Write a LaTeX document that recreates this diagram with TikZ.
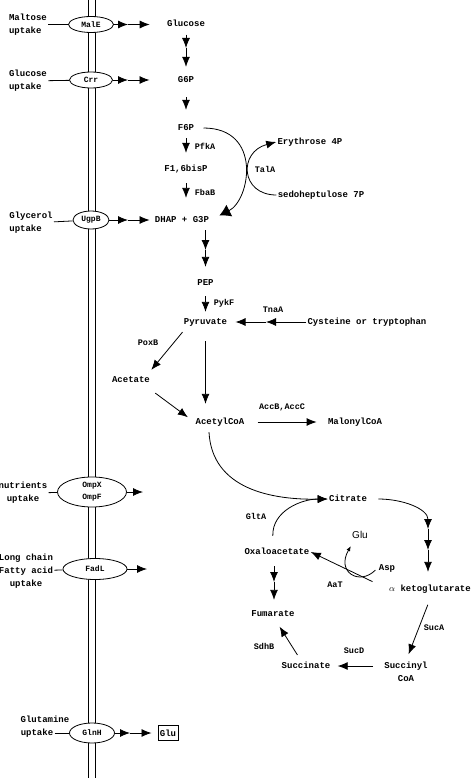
\documentclass[tikz,border=0pt]{standalone}
\usepackage{fontspec}
\setmonofont{Liberation Mono}
\newfontfamily\glufont{Liberation Sans}
\usetikzlibrary{arrows.meta,shapes.geometric}

\begin{document}
\begin{tikzpicture}[x=1pt,y=-1pt,->,>={Latex[length=10pt,width=8pt]},
  line width=0.8pt,
  every node/.style={font=\ttfamily\bfseries\fontsize{9}{13}\selectfont},
  met/.style={inner xsep=1pt,inner ysep=6pt,text height=6pt,text depth=1.5pt},
  enz/.style={font=\ttfamily\bfseries\fontsize{8.5}{10}\selectfont,inner sep=1pt},
  carrier/.style={ellipse,draw,fill=white,inner sep=0pt,align=center,
    font=\ttfamily\bfseries\fontsize{8}{12}\selectfont},
  uptake/.style={inner sep=1pt},
  bighead/.style={-{Latex[length=11pt,width=13pt]}},
  tiphead/.style={-{Latex[length=5pt,width=4pt]}}
  ]

  \useasboundingbox (0,0) rectangle (474,778);

  % membrane
  \draw[-,line width=1pt] (88,0) -- (88,778);
  \draw[-,line width=1pt] (95,0) -- (95,778);

  % transporters
  \node[carrier,minimum width=45pt,minimum height=16pt] (malE) at (91,24.5) {MalE};
  \node[carrier,minimum width=43pt,minimum height=16pt] (crr) at (91,80) {Crr};
  \node[carrier,minimum width=36pt,minimum height=18pt] (ugpB) at (91,220) {UgpB};
  \node[carrier,minimum width=69pt,minimum height=30pt] (omp) at (92,492) {OmpX\\OmpF};
  \node[carrier,minimum width=64pt,minimum height=21pt] (fadL) at (95,569) {FadL};
  \node[carrier,minimum width=45pt,minimum height=20pt] (glnH) at (92,733) {GlnH};

  \node[uptake,align=left] (maltup) at (28,24.5) {Maltose\\uptake};
  \node[uptake,align=left] (glcup) at (28,81) {Glucose\\uptake};
  \node[uptake,align=left] (glyup) at (31,223) {Glycerol\\uptake};
  \node[uptake,align=center] (nutup) at (23,493) {nutrients\\uptake};
  \node[uptake,align=center] (fatup) at (26,571) {Long chain\\Fatty acid\\uptake};
  \node[uptake] (glnup1) at (45,719) {Glutamine};
  \node[uptake] (glnup) at (37,733) {uptake};

  % metabolites
  \node[met] (glc) at (186,24.5) {Glucose};
  \node[met] (g6p) at (186,80) {G6P};
  \node[met] (f6p) at (186,128) {F6P};
  \node[met] (fbp) at (186,169) {F1,6bisP};
  \node[met] (dhap) at (182,220) {DHAP + G3P};
  \node[met] (e4p) at (310,142) {Erythrose 4P};
  \node[met] (s7p) at (321,195) {sedoheptulose 7P};
  \node[met] (pep) at (205.5,283) {PEP};
  \node[met] (pyr) at (205.5,322) {Pyruvate};
  \node[met] (cys) at (367,322) {Cysteine or tryptophan};
  \node[met] (acet) at (131,380) {Acetate};
  \node[met] (accoa) at (220,422) {AcetylCoA};
  \node[met] (malcoa) at (355,422) {MalonylCoA};
  \node[met] (cit) at (348,499) {Citrate};
  \node[met] (oaa) at (277,552) {Oxaloacetate};
  \node[met] (akg) at (430,589) {$\alpha$ ketoglutarate};
  \node[met] (fum) at (273,614) {Fumarate};
  \node[met] (succ) at (306,666) {Succinate};
  \node[align=center,inner sep=1pt] (succoa) at (406,672) {Succinyl\\CoA};
  \node[met,font=\glufont\fontsize{10}{12}\selectfont] (glu) at (360,536) {Glu};
  \node[met] (asp) at (387,568) {Asp};
  \node[draw,inner sep=2pt,minimum height=15pt,line width=0.8pt] (glub) at (168,733) {Glu};

  % enzymes
  \node[enz] (pfkA) at (205,146) {PfkA};
  \node[enz] (fbaB) at (205,192) {FbaB};
  \node[enz] (talA) at (265,169) {TalA};
  \node[enz] (pykF) at (224,303) {PykF};
  \node[enz] (tnaA) at (273,310) {TnaA};
  \node[enz] (poxB) at (148,343) {PoxB};
  \node[enz] (accBC) at (282,407) {AccB,AccC};
  \node[enz] (gltA) at (256,516) {GltA};
  \node[enz] (aaT) at (335,585) {AaT};
  \node[enz] (sucA) at (434,628) {SucA};
  \node[enz] (sucD) at (354,651) {SucD};
  \node[enz] (sdhB) at (264,646) {SdhB};

  \coordinate (malEm) at (128,24.5);
  \coordinate (crrm) at (128,80);
  \coordinate (ugpBm) at (128,220);
  \coordinate (glnHm) at (130,733);
  \coordinate (ompend) at (143,492);
  \coordinate (fadLend) at (147,569);
  \coordinate (glcm) at (186,48);
  \coordinate (dhapm) at (205.5,250);
  \coordinate (cysm) at (266,322);
  \coordinate (oaam) at (274,582);
  \coordinate (cita) at (428,529);
  \coordinate (citb) at (428,550);

  % uptake
  \draw[-] (maltup) -- (malE);
  \draw[-] (glcup) -- (crr);
  \draw[-] (glyup) -- (ugpB);
  \draw[-] (nutup) -- (omp);
  \draw[-] (fatup) -- (fadL);
  \draw[-] (glnup) -- (glnH);

  \path
  (malE) edge (malEm)
  (malEm) edge [shorten >=16pt] (glc)
  (crr) edge (crrm)
  (crrm) edge [shorten >=27pt] (g6p)
  (ugpB) edge (ugpBm)
  (ugpBm) edge [shorten >=4pt] (dhap)
  (omp) edge (ompend)
  (fadL) edge (fadLend)
  (glnH) edge (glnHm)
  (glnHm) edge [shorten >=6pt] (glub);

  % glycolysis
  \path
  (glc) edge (glcm)
  (glcm) edge [shorten >=3pt] (g6p)
  (g6p) edge [shorten <=7pt,shorten >=8pt] (f6p)
  (f6p) edge [shorten >=6pt] (fbp)
  (fbp.south) edge [shorten <=4pt,shorten >=12pt] (fbp.south |- dhap.north)
  (dhap.south -| dhapm) edge (dhapm)
  (dhapm) edge [shorten >=6pt] (pep)
  (pep) edge [shorten <=3pt] (pyr)
  (pyr.south) edge [shorten <=9pt,shorten >=8pt] (pyr.south |- accoa.north)
  (pyr.south west) edge (acet.north east)
  (acet.south east) edge [shorten <=5pt,shorten >=8pt] (accoa.west)
  (accoa) edge [shorten <=12pt,shorten >=10pt] (malcoa)
  (cys) edge (cysm)
  (cysm) edge [shorten >=7pt] (pyr);

  \draw[bighead,shorten <=8pt,shorten >=10pt] (f6p.east) .. controls +(67,0) and +(40,-20) .. (dhap.east);
  \draw (s7p.west) .. controls +(-36,0) and +(-38,10) .. (e4p.west);

  % TCA
  \draw ([xshift=-11pt]accoa.south) .. controls +(3,57) and +(-56,1) .. (cit.west);
  \draw[shorten <=6pt] ([xshift=-4pt]oaa.north) .. controls +(-1,-31) and +(-26,0) .. (cit.west);
  \draw[shorten <=10pt] (cit.east) .. controls +(35,0) and +(0,-20) .. (cita);
  \draw[tiphead,shorten <=3pt] (asp.west) .. controls +(-18,18) and +(-15,26) .. (glu.south west);

  \path
  (cita) edge (citb)
  (citb) edge [shorten >=7pt] (citb |- akg.north)
  (akg.west) edge [shorten <=17pt] (oaa.east)
  (oaa.south -| oaam) edge [shorten <=4pt] (oaam)
  (oaam) edge [shorten >=4pt] (oaam |- fum.north)
  (akg.south) edge [shorten <=6pt,shorten >=7pt] (succoa.north)
  (succoa.west |- succ) edge [shorten <=10pt,shorten >=6pt] (succ.east)
  ([xshift=-8pt]succ.north) edge [shorten <=1pt,shorten >=3pt] ([xshift=5pt]fum.south);

\end{tikzpicture}
\end{document}
